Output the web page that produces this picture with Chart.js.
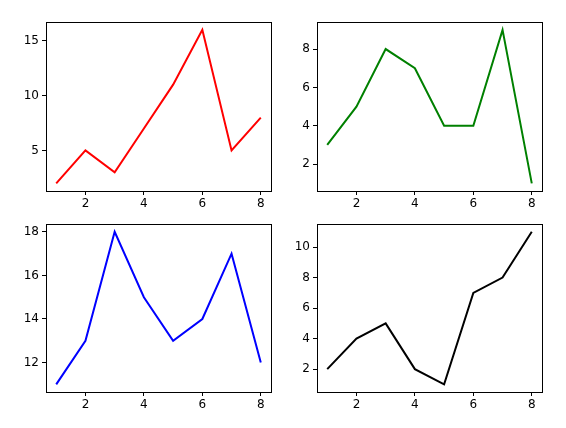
<!DOCTYPE html>
<html><head>
<script src="https://cdn.jsdelivr.net/npm/chart.js@4"></script>
<style>body{margin:0;background:#fff;width:566px;height:428px;position:relative;overflow:hidden}
.c{position:absolute}</style>
</head><body>
<div class="c" style="left:0;top:12px;width:281px;height:200px"><canvas id="c0"></canvas></div>
<div class="c" style="left:271px;top:12px;width:281px;height:200px"><canvas id="c1"></canvas></div>
<div class="c" style="left:0;top:214px;width:281px;height:199px"><canvas id="c2"></canvas></div>
<div class="c" style="left:271px;top:214px;width:281px;height:199px"><canvas id="c3"></canvas></div>
<script>
const xs = [1,2,3,4,5,6,7,8];
const red = [2,5,3,7,11,16,5,8];
const green = [3,5,8,7,4,4,9,1];
const blue = [11,13,18,15,13,14,17,12];
const black = [2,4,5,2,1,7,8,11];
const xTicks = [2,4,6,8];
const redTicks = [5,10,15];
const greenTicks = [2,4,6,8];
const blueTicks = [12,14,16,18];
const blackTicks = [2,4,6,8,10];

const frame = {id:'frame', afterDraw(ch){const a=ch.chartArea,c=ch.ctx;c.save();c.strokeStyle='#000';c.lineWidth=1;c.strokeRect(Math.round(a.left)+0.5,Math.round(a.top)+0.5,Math.round(a.right-a.left),Math.round(a.bottom-a.top));c.restore();}};

function make(id, ys, color, ticks){
  const mn=Math.min(...ys), mx=Math.max(...ys), m=(mx-mn)*0.05;
  new Chart(document.getElementById(id), {
    type:'line',
    data:{datasets:[{data:xs.map((x,i)=>({x,y:ys[i]})),borderColor:color,borderWidth:2,pointRadius:0,tension:0,fill:false}]},
    options:{responsive:true,maintainAspectRatio:false,animation:false,
      layout:{padding:{top:10,right:10,left:0,bottom:0}},
      plugins:{legend:{display:false},tooltip:{enabled:false}},
      scales:{
        x:{type:'linear',min:0.65,max:8.35,
          afterBuildTicks:s=>{s.ticks=xTicks.map(v=>({value:v}))},
          afterFit:s=>{s.height=21},
          grid:{drawOnChartArea:false,tickLength:4,color:'#000'},border:{color:'#000'},
          ticks:{color:'#000',font:{family:'DejaVu Sans',size:12},padding:2,maxRotation:0}},
        y:{min:mn-m,max:mx+m,
          afterBuildTicks:s=>{s.ticks=ticks.map(v=>({value:v}))},
          afterFit:s=>{s.width=46},
          grid:{drawOnChartArea:false,tickLength:4,color:'#000'},border:{color:'#000'},
          ticks:{color:'#000',font:{family:'DejaVu Sans',size:12},padding:3}}
      }},
    plugins:[frame]
  });
}
make('c0',red,'#ff0000',redTicks);
make('c1',green,'#008000',greenTicks);
make('c2',blue,'#0000ff',blueTicks);
make('c3',black,'#000000',blackTicks);
</script>
</body></html>
